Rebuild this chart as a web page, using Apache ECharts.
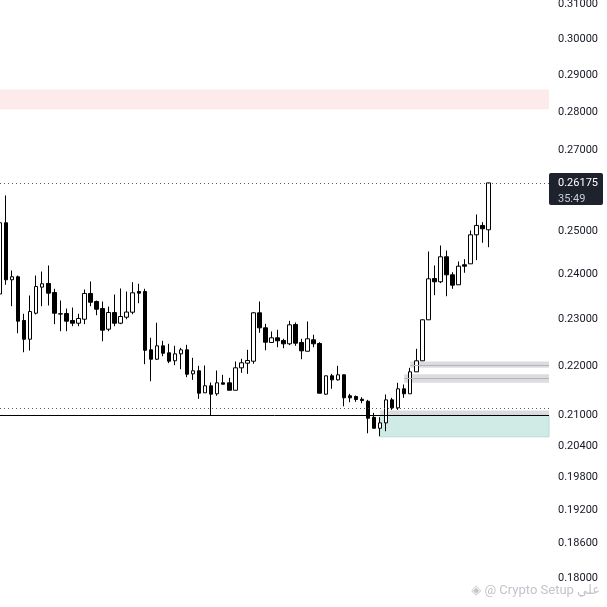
<!DOCTYPE html>
<html><head><meta charset="utf-8">
<script src="https://cdn.jsdelivr.net/npm/echarts@6/dist/echarts.min.js"></script>
<style>html,body{margin:0;padding:0;background:#fff}#c{width:607px;height:607px}</style>
</head><body><div id="c"></div>
<script>
// ---- data ----
const opens = [0.23559,0.25204,0.23878,0.23946,0.22974,0.22570,0.23133,0.23712,0.23795,0.23592,
0.23120,0.23126,0.22974,0.22915,0.23002,0.23570,0.23391,0.23236,0.22785,0.23148,
0.22915,0.23046,0.23155,0.23614,0.23614,0.22344,0.22146,0.22429,0.22281,0.22113,
0.22259,0.22344,0.21841,0.21904,0.21452,0.21595,0.21432,0.21656,0.21656,0.21504,
0.21966,0.22063,0.22104,0.23142,0.22815,0.22500,0.22600,0.22542,0.22472,0.22887,
0.22500,0.22314,0.22557,0.22478,0.21424,0.21800,0.21717,0.21821,0.21392,0.21377,
0.21321,0.21281,0.20959,0.20743,0.20849,0.21309,0.21148,0.21533,0.21432,0.21883,
0.22113,0.22989,0.23907,0.23833,0.24404,0.23991,0.23765,0.24220,0.24242,0.24918,
0.25140,0.25037];
const highs = [0.25823,0.25865,0.24089,0.23975,0.23120,0.23525,0.23975,0.24066,0.24204,0.23675,
0.23413,0.23236,0.23258,0.23120,0.23659,0.23840,0.23413,0.23391,0.23280,0.23547,
0.23682,0.23614,0.23824,0.23788,0.23675,0.22600,0.22924,0.22536,0.22472,0.22429,
0.22386,0.22450,0.22176,0.22008,0.22014,0.21662,0.21910,0.21821,0.21759,0.22098,
0.22155,0.22344,0.23155,0.23391,0.22902,0.22736,0.22772,0.22579,0.22967,0.22931,
0.22579,0.22952,0.22665,0.22506,0.21806,0.21841,0.22008,0.21827,0.21432,0.21397,
0.21363,0.21309,0.21048,0.20961,0.21417,0.21350,0.21656,0.21621,0.21966,0.22365,
0.22996,0.24527,0.24204,0.24667,0.24550,0.24050,0.24296,0.24349,0.25020,0.25403,
0.25218,0.26175];
const lows = [0.23500,0.23765,0.23287,0.22699,0.22293,0.22329,0.23105,0.23287,0.23302,0.22894,
0.22742,0.22742,0.22850,0.22850,0.22894,0.23287,0.23090,0.22527,0.22742,0.22850,
0.22894,0.23002,0.23111,0.23353,0.22042,0.21689,0.22130,0.22209,0.22063,0.22021,
0.21937,0.21772,0.21717,0.21330,0.21452,0.21000,0.21392,0.21627,0.21504,0.21504,
0.21862,0.21841,0.22050,0.22707,0.22335,0.22500,0.22399,0.22378,0.22443,0.22429,
0.22146,0.22314,0.22399,0.21444,0.21412,0.21533,0.21703,0.21180,0.21261,0.21269,
0.21241,0.20645,0.20743,0.20586,0.20684,0.21108,0.21108,0.21350,0.21432,0.21883,
0.22113,0.22989,0.23532,0.23802,0.23509,0.23675,0.23765,0.24037,0.24242,0.24326,
0.24730,0.24627];
const closes = [0.25204,0.23878,0.23946,0.22959,0.22570,0.23170,0.23727,0.23788,0.23577,0.23133,
0.23115,0.22959,0.22915,0.23018,0.23570,0.23375,0.23221,0.22764,0.23148,0.22915,
0.23061,0.23159,0.23585,0.23577,0.22335,0.22146,0.22429,0.22272,0.22104,0.22259,
0.22344,0.21833,0.21904,0.21444,0.21595,0.21424,0.21656,0.21627,0.21504,0.21966,
0.22071,0.22119,0.23142,0.22815,0.22506,0.22600,0.22536,0.22472,0.22880,0.22485,
0.22323,0.22579,0.22472,0.21444,0.21800,0.21717,0.21821,0.21350,0.21350,0.21315,
0.21295,0.20941,0.20743,0.20849,0.21309,0.21148,0.21533,0.21432,0.21883,0.22113,
0.22989,0.23900,0.23833,0.24404,0.23991,0.23756,0.24188,0.24188,0.24918,0.25140,
0.25061,0.26175];
const emptySlots = 10;                       // blank bars to the right of the last candle
const categories = Array.from({length: opens.length + emptySlots}, (_, i) => String(i + 1));
const tickLabels = [0.31, 0.30, 0.29, 0.28, 0.27, 0.25, 0.24, 0.23, 0.22, 0.21, 0.204, 0.198, 0.192, 0.186, 0.18];
const resistanceZone = [0.28599, 0.28070];
const grayZoneA = {start: 68, top: 0.22098, bottom: 0.21967, mid: 0.22030};
const grayZoneB = {start: 67, top: 0.21834, bottom: 0.21656, mid: 0.21745};
const grayZoneC = {start: 63, top: 0.21094, bottom: 0.21000};
const demandZone = {start: 63, top: 0.21000, bottom: 0.20575};
const supportLevel = 0.21;
const dottedLevel = 0.21149;
const lastPrice = 0.26175;
const countdown = '35:49';
const watermark = '\u25C8 @ Crypto Setup \u0639\u0644\u064A';

// ---- chart ----
const chart = echarts.init(document.getElementById('c'), null, {renderer: 'canvas'});
const lastCat = categories[categories.length - 1];
const candleData = opens.map((o, i) => [o, closes[i], lows[i], highs[i]]);
const FONT = 'Roboto';

const tickLines = tickLabels.map(v => ({
  yAxis: v,
  lineStyle: {width: 0, color: 'transparent'},
  label: {show: true, position: 'end', distance: 9, color: '#131722', fontSize: 11, fontFamily: FONT,
          formatter: p => Number(p.value).toFixed(5)}
}));

const option = {
  animation: false,
  backgroundColor: '#ffffff',
  grid: {left: 0, right: 58, top: 0, bottom: 0, containLabel: false},
  xAxis: {type: 'category', data: categories, boundaryGap: false, show: false},
  yAxis: {type: 'log', logBase: 10, min: 0.1751, max: 0.3113, position: 'right',
          axisLine: {show: false}, axisTick: {show: false}, axisLabel: {show: false}, splitLine: {show: false}},
  series: [{
    type: 'candlestick',
    data: candleData,
    barWidth: 4,
    itemStyle: {color: '#ffffff', color0: '#000000', borderColor: '#000000', borderColor0: '#000000', borderWidth: 1},
    markArea: {
      silent: true,
      data: [
        [{yAxis: resistanceZone[0], itemStyle: {color: '#fdeaea'}}, {yAxis: resistanceZone[1]}],
        [{xAxis: String(grayZoneA.start + 1), yAxis: grayZoneA.top, itemStyle: {color: '#dcdcdf'}}, {xAxis: lastCat, yAxis: grayZoneA.bottom}],
        [{xAxis: String(grayZoneB.start + 1), yAxis: grayZoneB.top, itemStyle: {color: '#dcdcdf'}}, {xAxis: lastCat, yAxis: grayZoneB.bottom}],
        [{xAxis: String(grayZoneC.start + 1), yAxis: grayZoneC.top, itemStyle: {color: '#dcdcdf'}}, {xAxis: lastCat, yAxis: grayZoneC.bottom}],
        [{xAxis: String(demandZone.start + 1), yAxis: demandZone.top, itemStyle: {color: '#d0ebe5', borderColor: '#b5ddd3', borderWidth: 1}}, {xAxis: lastCat, yAxis: demandZone.bottom}]
      ]
    },
    markLine: {
      silent: true,
      precision: 6,
      symbol: ['none', 'none'],
      data: [
        [{xAxis: String(grayZoneA.start + 1), yAxis: grayZoneA.mid, lineStyle: {color: '#bcb0c0', width: 1, type: 'solid'}, label: {show: false}}, {xAxis: lastCat, yAxis: grayZoneA.mid}],
        [{xAxis: String(grayZoneB.start + 1), yAxis: grayZoneB.mid, lineStyle: {color: '#bcb0c0', width: 1, type: 'solid'}, label: {show: false}}, {xAxis: lastCat, yAxis: grayZoneB.mid}],
        {yAxis: supportLevel, lineStyle: {color: '#000000', width: 1, type: 'solid'}, label: {show: false}},
        {yAxis: dottedLevel, lineStyle: {color: '#555863', width: 1, type: [1, 3]}, label: {show: false}},
        {yAxis: lastPrice, lineStyle: {color: '#555863', width: 1, type: [1, 3]}, label: {show: false}},
        ...tickLines
      ]
    }
  }]
};
chart.setOption(option);

const yLast = chart.convertToPixel({yAxisIndex: 0}, lastPrice);
const plotRight = chart.getWidth() - 58;
chart.setOption({
  graphic: [
    {type: 'rect', shape: {x: plotRight, y: yLast - 10, width: 54, height: 32, r: 2}, style: {fill: '#1e222d'}, z: 100},
    {type: 'text', x: plotRight + 9, y: yLast, z: 101,
     style: {text: lastPrice.toFixed(5), fill: '#ffffff', font: '11px ' + FONT, verticalAlign: 'middle', align: 'left'}},
    {type: 'text', x: plotRight + 9, y: yLast + 16.5, z: 101,
     style: {text: countdown, fill: '#c9ccd4', font: '11px ' + FONT, verticalAlign: 'middle', align: 'left'}},
    {type: 'text', right: 7, top: 584, z: 101,
     style: {text: watermark, fill: '#c2c4ca', font: '13px ' + FONT + ', "DejaVu Sans"'}}
  ]
});
</script>
</body></html>
